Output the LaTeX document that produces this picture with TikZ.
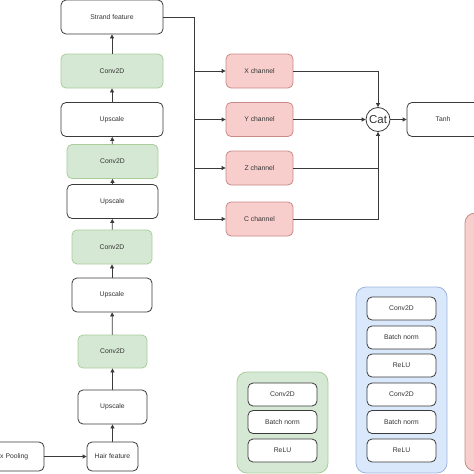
\documentclass[tikz,border=0pt]{standalone}
\usepackage{fontspec}
\setmainfont{Liberation Sans}
\usetikzlibrary{arrows.meta}
\definecolor{txtgray}{HTML}{333333}
\definecolor{linegray}{HTML}{3A3A3A}
\definecolor{convfill}{HTML}{D5E8D4}
\definecolor{convline}{HTML}{A9CC9B}
\definecolor{chanfill}{HTML}{F8CECC}
\definecolor{chanline}{HTML}{C98A88}
\definecolor{bluefill}{HTML}{DAE8FC}
\definecolor{blueline}{HTML}{9DB5D9}

\begin{document}
\begin{tikzpicture}[x=1pt,y=-1pt,
        font=\fontsize{6.8}{8}\selectfont, text=txtgray,
        box/.style={draw=linegray, fill=white, rounded corners=5pt, line width=0.8pt,
            minimum height=34pt, inner sep=1pt},
        convbox/.style={box, draw=convline, fill=convfill},
        chanbox/.style={box, draw=chanline, fill=chanfill, minimum width=67pt},
        layerbox/.style={box, minimum width=69pt, minimum height=23pt},
        groupbox/.style={rounded corners=10pt, line width=0.8pt, minimum width=91pt},
        link/.style={draw=linegray, line width=0.8pt, -{Triangle[length=4pt,width=4pt]}}]
            \useasboundingbox (0,0) rectangle (474,474);
            \clip (0,0) rectangle (474,474);
            % decoder column
            \node[box, minimum width=102pt] (strand) at (112,17) {Strand feature};
            \node[convbox, minimum width=102pt] (conva) at (112,71) {Conv2D};
            \node[box, minimum width=102pt] (upa) at (112,119.5) {Upscale};
            \node[convbox, minimum width=91pt] (convb) at (112.5,161.5) {Conv2D};
            \node[box, minimum width=91pt] (upb) at (112.5,201.5) {Upscale};
            \node[convbox, minimum width=80pt] (convc) at (112,247) {Conv2D};
            \node[box, minimum width=80pt] (upc) at (112,295) {Upscale};
            \node[convbox, minimum width=69pt, minimum height=33pt] (convd) at (112.5,351.5) {Conv2D};
            \node[box, minimum width=69pt] (upd) at (112.5,407) {Upscale};
            \node[box, minimum width=51pt, minimum height=29pt] (hair) at (112.5,456.5) {Hair feature};
            \node[box, minimum width=69pt, minimum height=29pt] (pool) at (9.5,456.5) {Max Pooling};
            \draw[link] (pool) -- (hair);
            \draw[link] (hair) -- (upd);
            \draw[link] (upd) -- (convd);
            \draw[link] (convd) -- (upc);
            \draw[link] (upc) -- (convc);
            \draw[link] (convc) -- (upb);
            \draw[link] (upb) -- (convb);
            \draw[link] (convb) -- (upa);
            \draw[link] (upa) -- (conva);
            \draw[link] (conva) -- (strand);
            % channels
            \node[chanbox] (xch) at (259.5,71) {X channel};
            \node[chanbox] (ych) at (259.5,119.5) {Y channel};
            \node[chanbox] (zch) at (259.5,168) {Z channel};
            \node[chanbox] (cch) at (259.5,219) {C channel};
            \coordinate (bus) at (194,17);
            \draw[link] (strand.east) -- (bus) |- (cch.west);
            \draw[link] (bus |- xch.west) -- (xch.west);
            \draw[link] (bus |- ych.west) -- (ych.west);
            \draw[link] (bus |- zch.west) -- (zch.west);
            \node[draw=linegray, line width=0.8pt, circle, minimum size=24pt, inner sep=0pt,
                font=\fontsize{11.5}{12}\selectfont] (cat) at (378,119.5) {Cat};
            \node[box, minimum width=72pt] (tanh) at (443,119.5) {Tanh};
            \draw[link] (xch.east) -| (cat.north);
            \draw[link] (ych.east) -- (cat.west);
            \draw[draw=linegray, line width=0.8pt] (zch.east) -- (cat.south |- zch.east);
            \draw[link] (cch.east) -| (cat.south);
            \draw[link] (cat.east) -- (tanh.west);
            % blocks
            \node[groupbox, draw=convline, fill=convfill, minimum height=101pt] (greenblock) at (282.5,422.5) {};
            \node[layerbox] (gconv) at (282.5,394.5) {Conv2D};
            \node[layerbox] (gnorm) at (282.5,422) {Batch norm};
            \node[layerbox] (grelu) at (282.5,450.5) {ReLU};
            \node[groupbox, draw=blueline, fill=bluefill, minimum height=186pt] (blueblock) at (401.5,380) {};
            \node[layerbox] (bconva) at (401.5,308.5) {Conv2D};
            \node[layerbox] (bnorma) at (401.5,337.5) {Batch norm};
            \node[layerbox] (brelua) at (401.5,365.5) {ReLU};
            \node[layerbox] (bconvb) at (401.5,394.5) {Conv2D};
            \node[layerbox] (bnormb) at (401.5,422) {Batch norm};
            \node[layerbox] (brelub) at (401.5,450.5) {ReLU};
            \node[groupbox, draw=chanline, fill=chanfill, minimum height=258pt] (redblock) at (510.5,342) {};
        \end{tikzpicture}
\end{document}
